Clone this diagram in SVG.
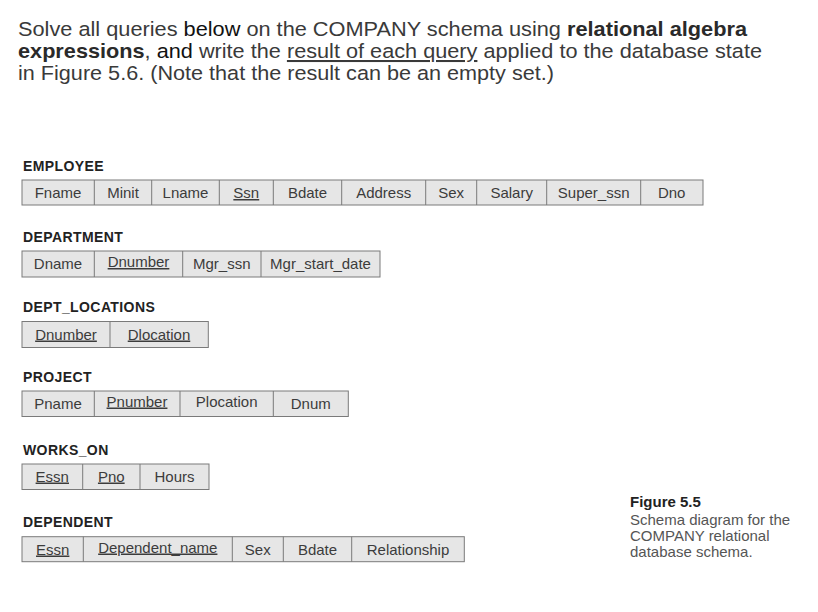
<svg xmlns="http://www.w3.org/2000/svg" width="818" height="612" viewBox="0 0 818 612">
<style>
.hd{font-family:"Liberation Sans",Arial,sans-serif;font-size:20.5px;fill:#3a3a3a}
.b{font-weight:bold;fill:#2a2a2a}
.k{fill:#111}
.u{text-decoration:underline}
.lbl{font-family:"Liberation Sans",Arial,sans-serif;font-size:14px;font-weight:bold;fill:#222;letter-spacing:0.4px}
.cell{fill:#e6e6e6;stroke:#7a7a7a;stroke-width:1}
.ct{font-family:"Liberation Sans",Arial,sans-serif;font-size:15px;fill:#3c3c3c;text-anchor:middle}
.cap{font-family:"Liberation Sans",Arial,sans-serif;font-size:15px;fill:#555}
.capb{font-family:"Liberation Sans",Arial,sans-serif;font-size:15px;font-weight:bold;fill:#222}
</style>
<g id="heading">
<text class="hd" x="18" y="36" textLength="729" lengthAdjust="spacingAndGlyphs">Solve all queries <tspan class="k">below</tspan> on the COMPANY schema using <tspan class="b">relational algebra</tspan></text>
<text class="hd" x="18" y="58" textLength="744" lengthAdjust="spacingAndGlyphs"><tspan class="b">expressions</tspan>, <tspan class="k">and</tspan> write the <tspan class="u">result of each query</tspan> applied to the database state</text>
<text class="hd" x="18" y="80" textLength="536" lengthAdjust="spacingAndGlyphs">in Figure 5.6. (Note that the result can be an empty set.)</text>
</g>
<g id="employee">
<text class="lbl" x="23" y="171">EMPLOYEE</text>
<rect class="cell" x="22" y="180" width="681" height="25"/>
<path d="M94.3 180V205M151.7 180V205M219.3 180V205M273.3 180V205M341.7 180V205M425.7 180V205M476.7 180V205M546.7 180V205M640.7 180V205" stroke="#7a7a7a"/>
<text class="ct" y="198"><tspan x="58">Fname</tspan><tspan x="123">Minit</tspan><tspan x="185.5">Lname</tspan><tspan x="246.3" class="u">Ssn</tspan><tspan x="307.5">Bdate</tspan><tspan x="383.7">Address</tspan><tspan x="451.2">Sex</tspan><tspan x="511.7">Salary</tspan><tspan x="593.7">Super_ssn</tspan><tspan x="671.7">Dno</tspan></text>
</g>
<g id="department">
<text class="lbl" x="23" y="241.5">DEPARTMENT</text>
<rect class="cell" x="22" y="251" width="358" height="26"/>
<path d="M94.3 251V277M182.7 251V277M261 251V277" stroke="#7a7a7a"/>
<text class="ct" y="269"><tspan x="58">Dname</tspan><tspan x="138.5" class="u" dy="-2">Dnumber</tspan><tspan x="221.8" dy="2">Mgr_ssn</tspan><tspan x="320.5">Mgr_start_date</tspan></text>
</g>
<g id="dept_locations">
<text class="lbl" x="23" y="312">DEPT_LOCATIONS</text>
<rect class="cell" x="22" y="321.5" width="186.3" height="26"/>
<path d="M110 321.5V347.5" stroke="#7a7a7a"/>
<text class="ct" y="339.5"><tspan x="66" class="u">Dnumber</tspan><tspan x="159" class="u">Dlocation</tspan></text>
</g>
<g id="project">
<text class="lbl" x="23" y="381.5">PROJECT</text>
<rect class="cell" x="22" y="391" width="326.3" height="25.5"/>
<path d="M94.3 391V416.5M180 391V416.5M273.3 391V416.5" stroke="#7a7a7a"/>
<text class="ct" y="408.5"><tspan x="58">Pname</tspan><tspan x="137" class="u" dy="-2">Pnumber</tspan><tspan x="226.7">Plocation</tspan><tspan x="310.8" dy="2">Dnum</tspan></text>
</g>
<g id="works_on">
<text class="lbl" x="23" y="454.5">WORKS_ON</text>
<rect class="cell" x="22" y="464" width="187" height="25.5"/>
<path d="M82.7 464V489.5M140 464V489.5" stroke="#7a7a7a"/>
<text class="ct" y="481.5"><tspan x="52.3" class="u">Essn</tspan><tspan x="111.3" class="u">Pno</tspan><tspan x="174.5">Hours</tspan></text>
</g>
<g id="dependent">
<text class="lbl" x="23" y="527">DEPENDENT</text>
<rect class="cell" x="22" y="536.7" width="442.3" height="25"/>
<path d="M83.3 536.7V561.7M232.3 536.7V561.7M283.3 536.7V561.7M351.7 536.7V561.7" stroke="#7a7a7a"/>
<text class="ct" y="554.5"><tspan x="52.7" class="u">Essn</tspan><tspan x="157.8" class="u" dy="-2">Dependent_name</tspan><tspan x="257.8" dy="2">Sex</tspan><tspan x="317.5">Bdate</tspan><tspan x="408">Relationship</tspan></text>
</g>
<g id="caption">
<text class="capb" x="630" y="507">Figure 5.5</text>
<text class="cap" x="630" y="524.5">Schema diagram for the</text>
<text class="cap" x="630" y="540.5">COMPANY relational</text>
<text class="cap" x="630" y="556.5">database schema.</text>
</g>
<g id="connectors"/>
</svg>
